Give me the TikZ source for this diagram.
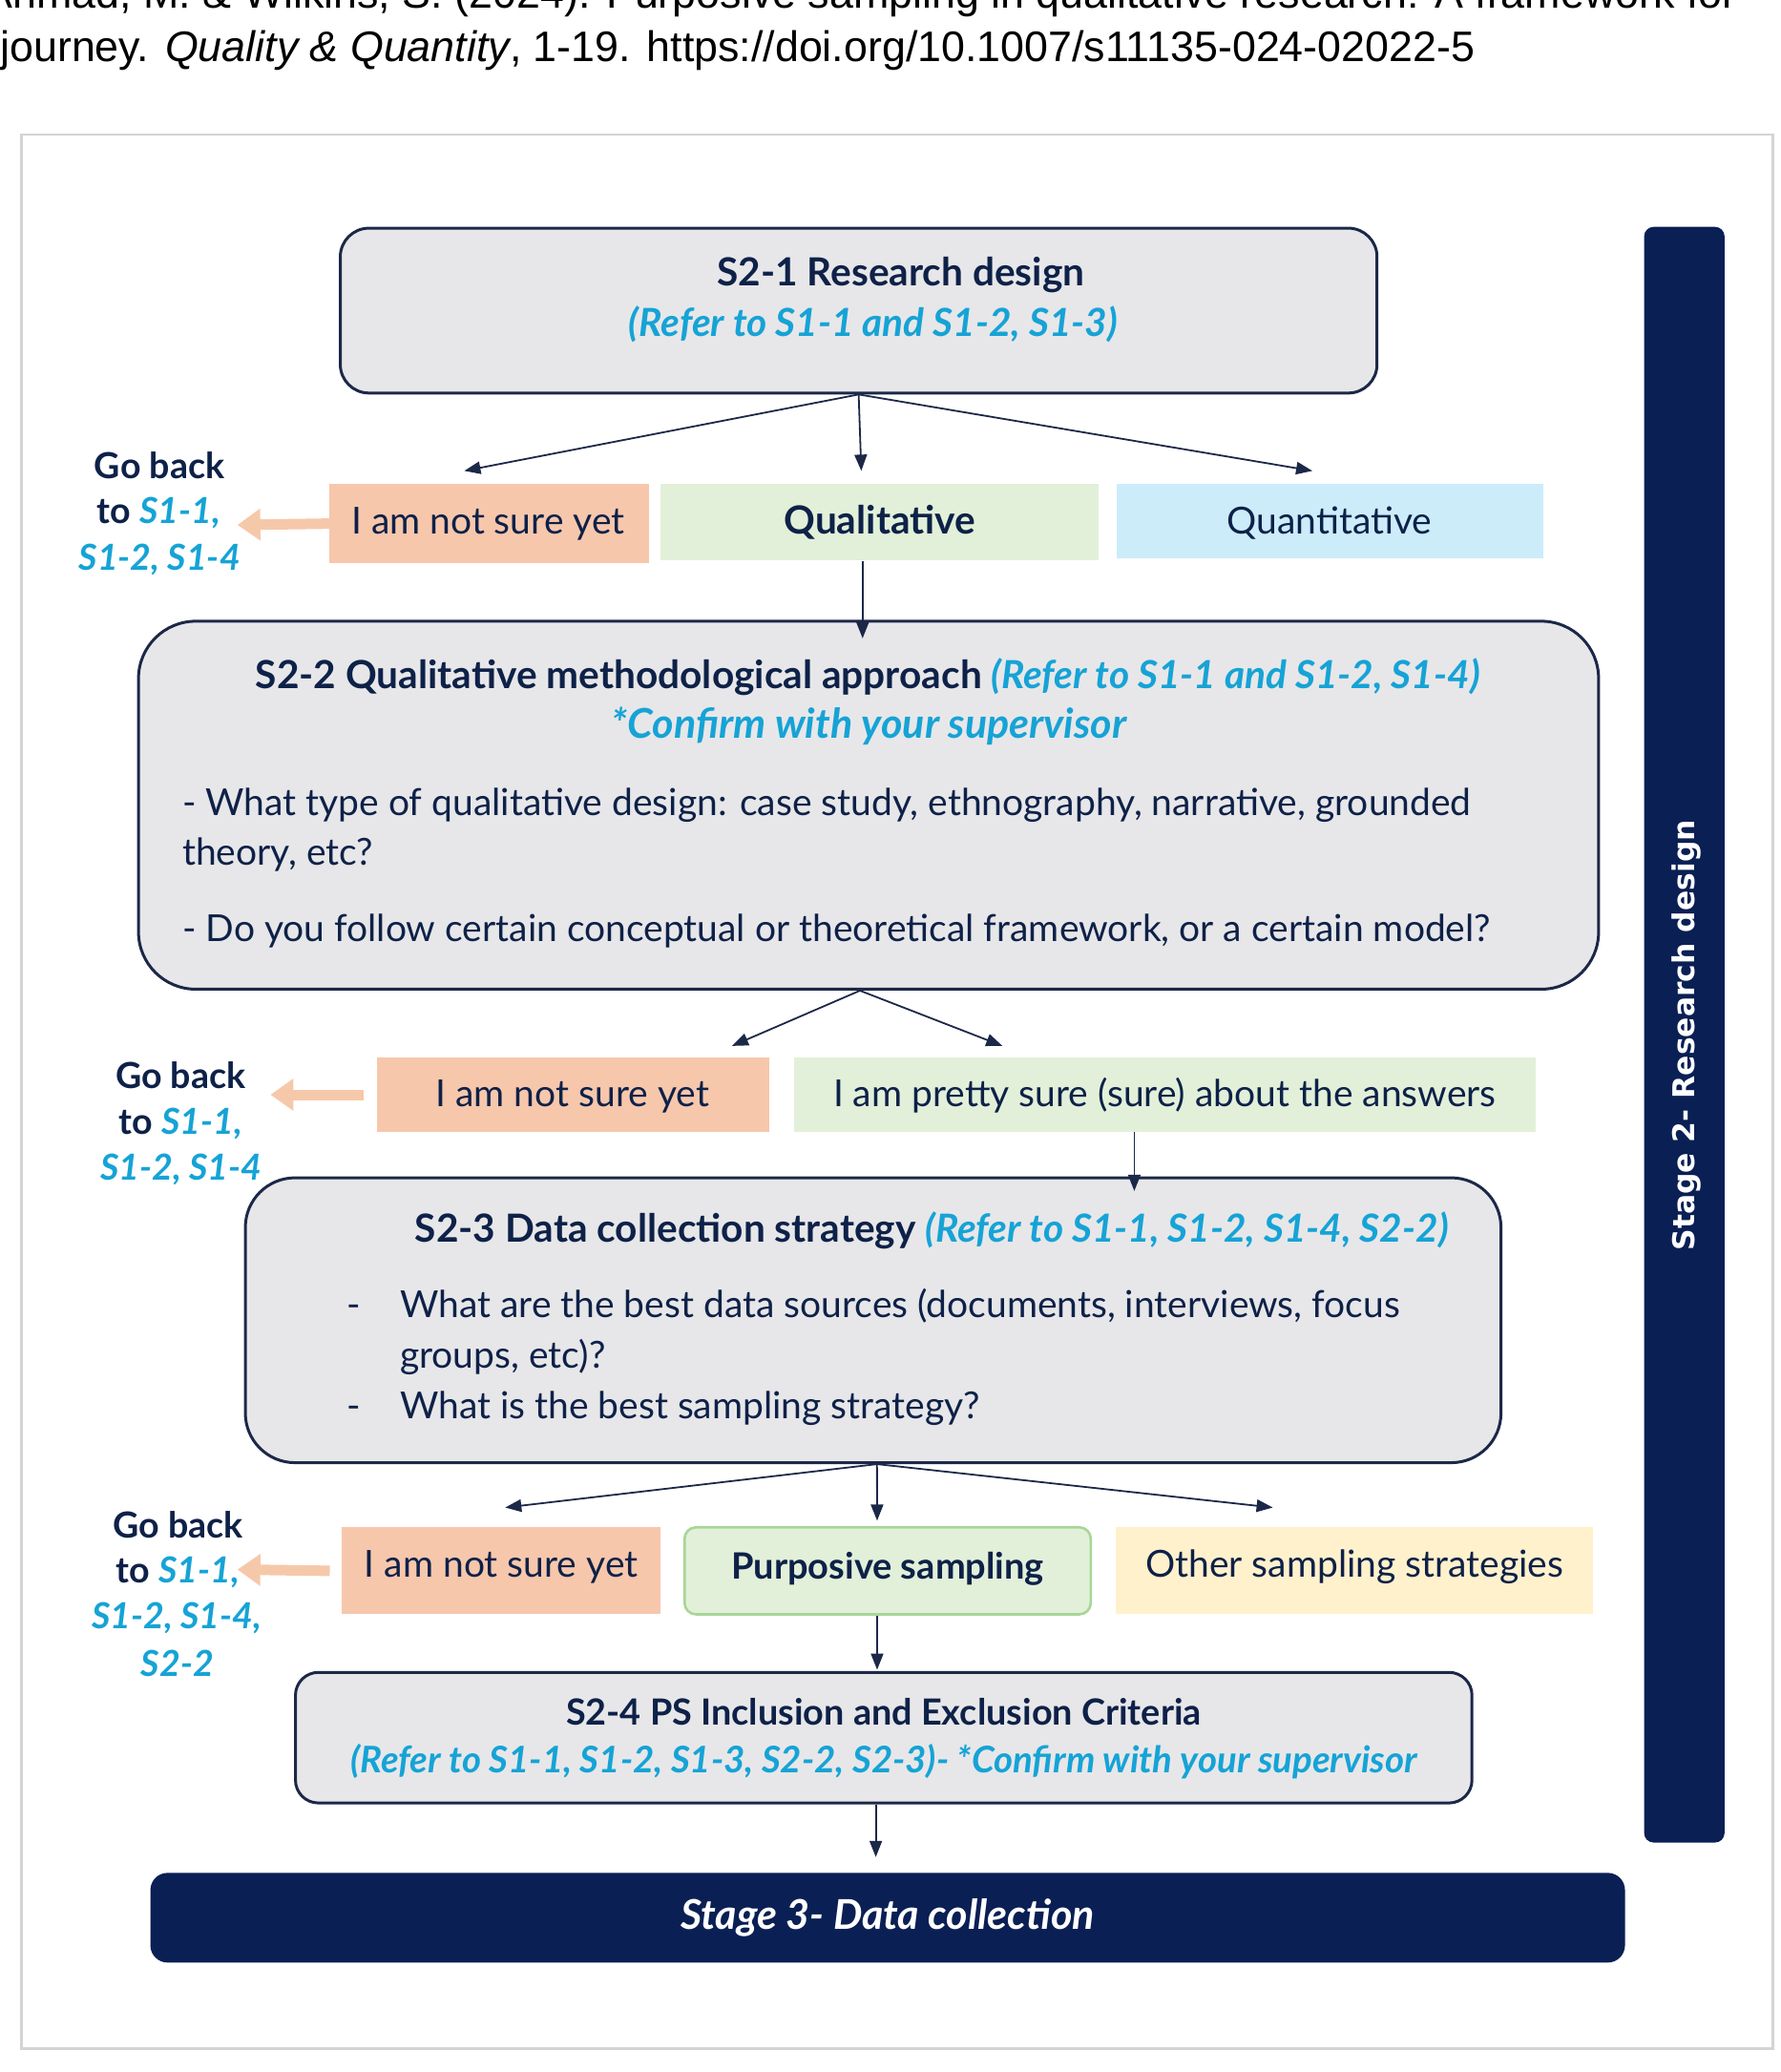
\documentclass[tikz,border=0pt]{standalone}
\usepackage{fontspec}
\setmainfont{Lato}
\newfontfamily\citefont{Liberation Sans}
\newfontfamily\barfont{DejaVu Sans}
\usetikzlibrary{arrows.meta,calc}
\definecolor{navy}{RGB}{10,31,84}
\definecolor{txt}{RGB}{14,33,72}
\definecolor{cyanref}{RGB}{22,163,214}
\definecolor{boxgray}{RGB}{231,231,233}
\definecolor{boxline}{RGB}{28,40,72}
\definecolor{salmon}{RGB}{247,199,172}
\definecolor{palegreen}{RGB}{226,240,217}
\definecolor{paleblue}{RGB}{204,236,250}
\definecolor{paleyellow}{RGB}{255,241,204}
\definecolor{greenline}{RGB}{168,214,150}
\definecolor{peach}{RGB}{246,200,170}
\definecolor{framegray}{RGB}{212,212,212}
\newcommand\myfs{\fontsize{19.5}{26}\selectfont}
\newcommand\titfs{\fontsize{20.3}{26}\selectfont}
\newcommand\refc[1]{{\color{cyanref}\bfseries\itshape #1}}
\def\U{0.691pt}
\tikzset{
  mainbox/.style={draw=boxline, line width=1.5pt, fill=boxgray, inner sep=0pt},
  choice/.style={inner sep=0pt, draw=none},
  arr/.style={draw=boxline, line width=0.9pt, -{Triangle[length=8.5pt,width=6.5pt]}},
  backarr/.style={draw=peach, line width=5.5pt, -{Triangle[length=12pt,width=16pt]}},
  lbl/.style={anchor=base, text=txt, font=\myfs, inner sep=0pt},
  lblw/.style={anchor=base west, text=txt, font=\myfs, inner sep=0pt},
  titl/.style={anchor=base, text=txt, font=\titfs\bfseries, inner sep=0pt},
  gob/.style={anchor=base, text=txt, font=\fontsize{18.8}{24}\selectfont\bfseries, inner sep=0pt},
}
\begin{document}
\begin{tikzpicture}[x=0.691pt,y=-0.691pt]
\useasboundingbox (0,0) rectangle (1350.3,1571);
% citation
\node[anchor=base west, inner sep=0pt, font=\citefont\fontsize{22.4}{28}\selectfont] (cit1) at (-12,6) {Ahmad, M. \& Wilkins, S. (2024). Purposive sampling in qualitative research: A framework for};
\node[anchor=base west, inner sep=0pt, font=\citefont\fontsize{22.4}{28}\selectfont] (cit2) at (0,47) {journey. \textit{Quality \& Quantity}, 1-19. https://doi.org/10.1007/s11135-024-02022-5};
% frame
\draw[framegray, line width=1.4pt] (16,102) rectangle (1344,1553);
% stage 2 bar
\node[fill=navy, rounded corners=5pt, minimum width={61*\U}, minimum height={1225*\U}, inner sep=0pt] (bar) at (1277,784.5) {};
\node[rotate=90, text=white, font=\barfont\bfseries\fontsize{15.7}{18}\selectfont, inner sep=0pt] (bart) at (1278.5,785) {Stage 2- Research design};
% S2-1
\node[mainbox, rounded corners=15pt, minimum width={786*\U}, minimum height={125*\U}] (s21) at (651,235.5) {};
\node[titl] (s21a) at (683,217) {S2-1 Research design};
\node[titl] (s21b) at (662,255) {\refc{(Refer to S1-1 and S1-2, S1-3)}};
% row 1
\node[choice, fill=salmon, minimum width={242*\U}, minimum height={60*\U}] (ns1) at (371,397) {};
\node[lbl] (ns1t) at (370,405) {I am not sure yet};
\node[choice, fill=palegreen, minimum width={332*\U}, minimum height={58*\U}] (qual) at (667,396) {};
\node[lbl, font=\titfs\bfseries] (qualt) at (667,405) {Qualitative};
\node[choice, fill=paleblue, minimum width={323*\U}, minimum height={56*\U}] (quant) at (1008.5,395) {};
\node[lbl] (quantt) at (1008,405) {Quantitative};
\coordinate (a1l) at (352,357);
\coordinate (a1m) at (653,357);
\coordinate (a1r) at (995,357);
\draw[arr] (s21.south) -- (a1l);
\draw[arr] (s21.south) -- (a1m);
\draw[arr] (s21.south) -- (a1r);
\coordinate (gb1a) at (180,398);
\draw[backarr] (ns1.west) -- (gb1a);
\node[gob] (gb1l1) at (121,363) {Go back};
\node[gob] (gb1l2) at (120.5,397) {to \refc{S1-1,}};
\node[gob] (gb1l3) at (121,432) {\refc{S1-2, S1-4}};
% S2-2
\node[mainbox, rounded corners=30pt, minimum width={1107*\U}, minimum height={279*\U}] (s22) at (658.5,610.5) {};
\coordinate (a2) at (654,484);
\draw[arr] (qual.south -| a2) -- (a2);
\node[titl] (s22a) at (658,522) {S2-2 Qualitative methodological approach \refc{(Refer to S1-1 and S1-2, S1-4)}};
\node[lbl, font=\fontsize{21.5}{26}\selectfont] (s22b) at (659,560) {\refc{*Confirm with your supervisor}};
\node[lblw] (s22c) at (138,618) {- What type of qualitative design: case study, ethnography, narrative, grounded};
\node[lblw] (s22d) at (138,656) {theory, etc?};
\node[lblw] (s22e) at (138,714) {- Do you follow certain conceptual or theoretical framework, or a certain model?};
% row 2
\node[choice, fill=salmon, minimum width={297*\U}, minimum height={56*\U}] (ns2) at (434.5,830) {};
\node[lbl] (ns2t) at (434,839) {I am not sure yet};
\node[choice, fill=palegreen, minimum width={562*\U}, minimum height={56*\U}] (sure) at (883,830) {};
\node[lbl] (suret) at (883,839) {I am pretty sure (sure) about the answers};
\coordinate (a3l) at (555,793);
\coordinate (a3r) at (760,793);
\draw[arr] ([xshift=-4.5pt]s22.south) -- (a3l);
\draw[arr] ([xshift=-4.5pt]s22.south) -- (a3r);
\coordinate (gb2a) at (205,830);
\draw[backarr] ([xshift=-7pt]ns2.west) -- (gb2a);
\node[gob] (gb2l1) at (137,825) {Go back};
\node[gob] (gb2l2) at (137,860) {to \refc{S1-1,}};
\node[gob] (gb2l3) at (137.5,895) {\refc{S1-2, S1-4}};
% S2-3
\node[mainbox, rounded corners=26pt, minimum width={952*\U}, minimum height={216*\U}] (s23) at (662,1001) {};
\coordinate (a4) at (860,903);
\draw[arr] (sure.south -| a4) -- (a4);
\node[titl] (s23a) at (706.5,942) {S2-3 Data collection strategy \refc{(Refer to S1-1, S1-2, S1-4, S2-2)}};
\node[lblw] (s23b1) at (263,999) {-};
\node[lblw] (s23b) at (303,999) {What are the best data sources (documents, interviews, focus};
\node[lblw] (s23c) at (303,1037) {groups, etc)?};
\node[lblw] (s23d1) at (263,1076) {-};
\node[lblw] (s23d) at (303,1076) {What is the best sampling strategy?};
% row 3
\node[choice, fill=salmon, minimum width={242*\U}, minimum height={66*\U}] (ns3) at (380,1191) {};
\node[lbl] (ns3t) at (380,1196) {I am not sure yet};
\node[choice, fill=palegreen, draw=greenline, line width=1.3pt, rounded corners=6pt, minimum width={308*\U}, minimum height={66*\U}] (purp) at (673,1191) {};
\node[lbl, font=\fontsize{19}{26}\selectfont\bfseries] (purpt) at (673,1197) {Purposive sampling};
\node[choice, fill=paleyellow, minimum width={362*\U}, minimum height={66*\U}] (other) at (1027,1191) {};
\node[lbl] (othert) at (1027,1196) {Other sampling strategies};
\coordinate (a5l) at (383,1143);
\coordinate (a5m) at (665,1153);
\coordinate (a5r) at (965,1143);
\draw[arr] ([xshift=2pt]s23.south) -- (a5l);
\draw[arr] ([xshift=2pt]s23.south) -- (a5m);
\draw[arr] ([xshift=2pt]s23.south) -- (a5r);
\coordinate (gb3a) at (180,1190);
\draw[backarr] ([xshift=-6pt]ns3.west) -- (gb3a);
\node[gob] (gb3l1) at (135,1166) {Go back};
\node[gob] (gb3l2) at (135,1200) {to \refc{S1-1,}};
\node[gob] (gb3l3) at (134,1235) {\refc{S1-2, S1-4,}};
\node[gob] (gb3l4) at (134.5,1271) {\refc{S2-2}};
% S2-4
\node[mainbox, rounded corners=12pt, minimum width={892*\U}, minimum height={99*\U}] (s24) at (670,1317.5) {};
\coordinate (a6) at (665,1266);
\draw[arr] (purp.south -| a6) -- (a6);
\node[lbl, font=\fontsize{18.9}{26}\selectfont\bfseries] (s24a) at (670,1308) {S2-4 PS Inclusion and Exclusion Criteria};
\node[lbl, font=\fontsize{19.2}{26}\selectfont] (s24b) at (670,1344) {\refc{(Refer to S1-1, S1-2, S1-3, S2-2, S2-3)- *Confirm with your supervisor}};
% stage 3
\node[fill=navy, rounded corners=9pt, minimum width={1118*\U}, minimum height={68*\U}, inner sep=0pt] (st3) at (673,1454) {};
\node[lbl, text=white, font=\fontsize{21.5}{26}\selectfont\bfseries\itshape] (st3t) at (673,1463) {Stage 3- Data collection};
\coordinate (a7) at (664,1408);
\draw[arr] (s24.south -| a7) -- (a7);
\end{tikzpicture}
\end{document}
